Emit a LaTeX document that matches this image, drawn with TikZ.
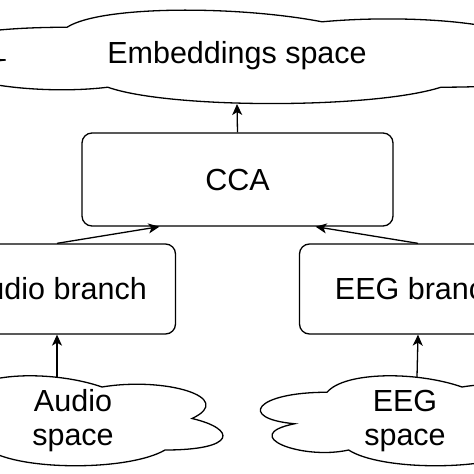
\documentclass[tikz,border=0pt]{standalone}
\usepackage{fontspec}
\setmainfont{Liberation Sans}
\usetikzlibrary{arrows.meta,calc}
\begin{document}
\begin{tikzpicture}[x=1pt,y=-1pt,
  thinline/.style={line width=1.3pt, draw=black},
  arr/.style={thinline, -{Stealth[length=11pt,width=10pt,inset=3pt]}},
  box/.style={draw=black, line width=1.3pt, rounded corners=10pt, inner sep=0pt, font=\fontsize{30.5}{34}\selectfont},
  lbl/.style={inner sep=0pt, align=center, font=\fontsize{30.5}{34}\selectfont},
  mxcloud/.pic={
    \draw[line width=1.3pt, fill=white, line join=miter]
      (0.25,0.25) .. controls (0.05,0.25) and (0,0.5) .. (0.16,0.55)
      .. controls (0,0.66) and (0.18,0.9) .. (0.31,0.8)
      .. controls (0.4,1) and (0.7,1) .. (0.8,0.8)
      .. controls (1,0.8) and (1,0.6) .. (0.875,0.5)
      .. controls (1,0.3) and (0.8,0.1) .. (0.625,0.2)
      .. controls (0.5,0.05) and (0.3,0.05) .. (0.25,0.25) -- cycle;
  }
]
\useasboundingbox (0,0) rectangle (474,474);
\fill[white] (0,0) rectangle (474,474);
\clip (0,0) rectangle (474,474);

% clouds
\pic[xscale=680, yscale=109] at (-103,0) {mxcloud};
\pic[xscale=360, yscale=105] at (-123,366) {mxcloud};
\pic[xscale=360, yscale=105] at (237,366) {mxcloud};

\node[lbl, anchor=base] (emb) at (237,63) {Embeddings space};
\node[lbl] (audiospace) at (73,421) {Audio\\space};
\node[lbl] (eegspace) at (405,421) {EEG\\space};

\coordinate (embbottom) at (237,104);
\coordinate (audiotop) at (57,377);
\coordinate (eegtop) at (417,377);

% boxes
\node[box, minimum width=311pt, minimum height=93pt] (cca) at (237.5,179.5) {CCA};
\node[box, minimum width=237pt, minimum height=90pt] (audiobranch) at (57,289) {Audio branch};
\node[box, minimum width=237pt, minimum height=90pt] (eegbranch) at (418,289) {EEG branch};

% connectors
\draw[arr] (cca.north) -- (embbottom);
\draw[arr] (audiobranch.north) -- ($(cca.south west)!0.25!(cca.south east)$);
\draw[arr] (eegbranch.north) -- ($(cca.south west)!0.75!(cca.south east)$);
\draw[arr] (audiotop) -- (audiobranch.south);
\draw[arr] (eegtop) -- (eegbranch.south);
\end{tikzpicture}
\end{document}
